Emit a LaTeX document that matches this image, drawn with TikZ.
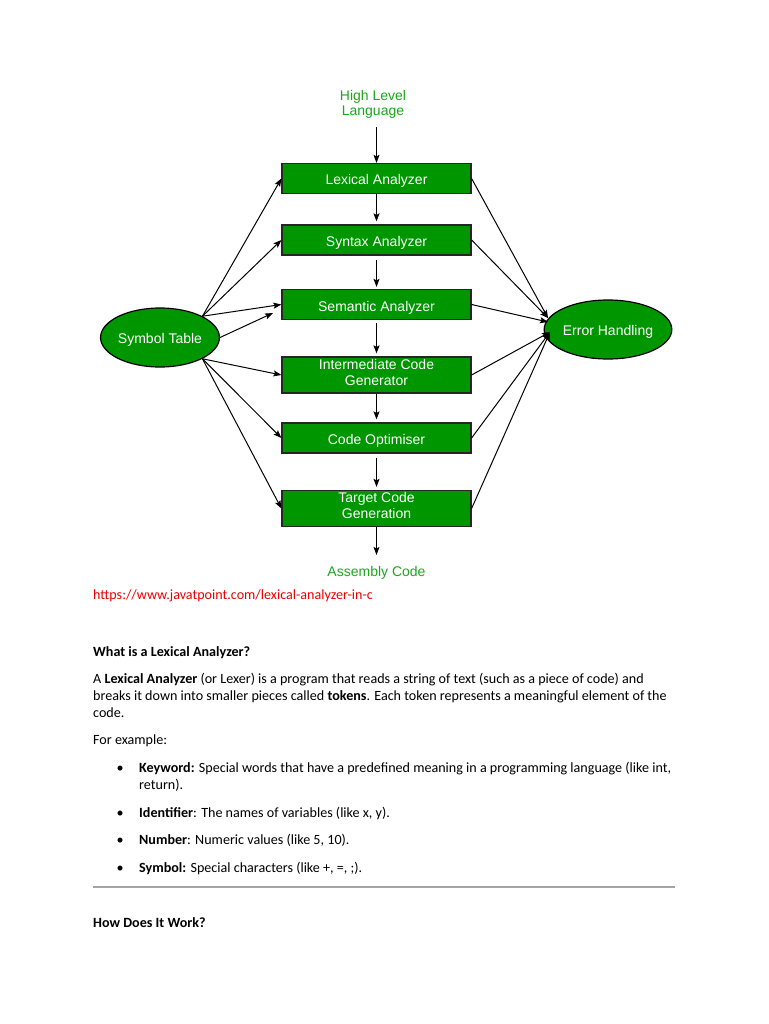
\documentclass[tikz,border=0pt]{standalone}
\usepackage{fontspec}
\setmainfont{Carlito}
\newfontfamily\diagfont{Liberation Sans}
\usepackage{xcolor}
\usetikzlibrary{arrows.meta,shapes.geometric,positioning}
\definecolor{boxgreen}{RGB}{0,150,0}
\definecolor{labelgreen}{RGB}{30,165,30}
\definecolor{linkred}{RGB}{235,0,0}
\definecolor{rulegray}{RGB}{165,165,165}

\begin{document}
\begin{tikzpicture}[x=1pt,y=-1pt,
		stage/.style={draw=black!85, fill=boxgreen, line width=1.2pt, text=white,
			minimum width=189pt, minimum height=30pt, align=center, inner sep=1pt,
			text height=13pt, text depth=0pt,
			font=\diagfont\fontsize{14}{16}\selectfont},
		tall/.style={minimum height=36pt, text height=26pt, text depth=6pt},
		blob/.style={ellipse, draw=black, fill=boxgreen, line width=1.2pt, text=white,
			minimum width=118pt, minimum height=59pt, inner sep=0pt,
			text height=12.5pt, text depth=0pt,
			font=\diagfont\fontsize{14}{16}\selectfont},
		io/.style={text=labelgreen, align=center, font=\diagfont\fontsize{14}{15.5}\selectfont},
		flow/.style={-{Stealth[length=8pt,width=6pt,inset=1.5pt]}, line width=1pt},
		body/.style={anchor=base west, inner sep=0pt, font=\fontsize{14.1}{17}\selectfont}
	]
	\useasboundingbox[fill=white] (0,0) rectangle (768,1024);

	% pipeline
	\node[io] (hll) at (373,104.5) {High Level\\Language};
	\node[stage] (lex) at (376.5,178.5) {Lexical Analyzer};
	\node[stage] (syn) at (376.5,240) {Syntax Analyzer};
	\node[stage] (sem) at (376.5,304.5) {Semantic Analyzer};
	\node[stage,tall] (int) at (376.5,375) {Intermediate Code\\Generator};
	\node[stage] (opt) at (376.5,438) {Code Optimiser};
	\node[stage,tall] (tgt) at (376.5,508.5) {Target Code\\Generation};
	\node[io] (asm) at (376.5,573) {Assembly Code};

	\node[blob] (symtab) at (160,337.5) {Symbol Table};
	\node[blob] (errh) at (608,329.5) {Error Handling};

	\draw[flow] (lex.north |- hll.south) ++(0,5) -- (lex.north);
	\draw[flow, shorten >=3pt] (lex) -- (syn);
	\draw[flow, shorten <=4pt, shorten >=2pt] (syn) -- (sem);
	\draw[flow, shorten <=3pt, shorten >=3pt] (sem) -- (int);
	\draw[flow, shorten >=3pt] (int) -- (opt);
	\draw[flow, shorten <=4pt, shorten >=3pt] (opt) -- (tgt);
	\draw[flow, shorten >=8pt] (tgt) -- (asm);

	% symbol table links
	\coordinate (stub) at (273,313);
	\draw[flow] (symtab.north east) -- (lex.west);
	\draw[flow] (symtab.north east) -- (syn.west);
	\draw[flow] (symtab.north east) -- (sem.west);
	\draw[flow] (symtab.east) -- (stub);
	\draw[flow] (symtab.south east) -- (int.west);
	\draw[flow] (symtab.south east) -- (opt.west);
	\draw[flow] (symtab.south east) -- (tgt.west);

	% error handling links
	\coordinate (errtop) at (548,318);
	\coordinate (errmid) at (548,322);
	\coordinate (errlow) at (550,332);
	\draw[flow] (lex.east) -- (errtop);
	\draw[flow] (syn.east) -- (errtop);
	\draw[flow] (sem.east) -- (errmid);
	\draw[flow] (int.east) -- (errlow);
	\draw[flow] (opt.east) -- (errlow);
	\draw[flow] (tgt.east) -- (errlow);

	% page text
	\node[body, text=linkred] (url) at (93,599) {https://www.javatpoint.com/lexical-analyzer-in-c};
	\node[body] (q1) at (93,656) {\textbf{What is a Lexical Analyzer?}};
	\node[body] (p1) at (93,683) {A \textbf{Lexical Analyzer} (or Lexer) is a program that reads a string of text (such as a piece of code) and};
	\node[body] (p2) at (93,700) {breaks it down into smaller pieces called \textbf{tokens}. Each token represents a meaningful element of the};
	\node[body] (p3) at (93,717) {code.};
	\node[body] (ex) at (93,744) {For example:};

	\foreach \y in {772,817,844,872}
		\node[body] at (116.5,\y) {\textbullet};
	\node[body] (kw) at (139,772) {\textbf{Keyword:} Special words that have a predefined meaning in a programming language (like int,};
	\node[body] (kw2) at (139,789) {return).};
	\node[body] (ident) at (139,817) {\textbf{Identifier}: The names of variables (like x, y).};
	\node[body] (num) at (139,844) {\textbf{Number}: Numeric values (like 5, 10).};
	\node[body] (symb) at (139,872) {\textbf{Symbol:} Special characters (like +, =, ;).};

	\draw[rulegray, line width=1.5pt] (93,887) -- (675,887);
	\node[body] (q2) at (93,927) {\textbf{How Does It Work?}};
\end{tikzpicture}
\end{document}
